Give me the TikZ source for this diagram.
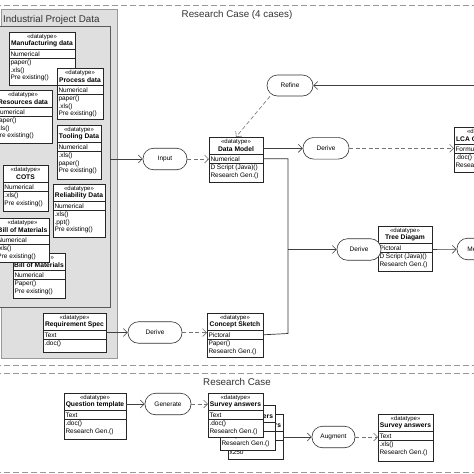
\documentclass[tikz,border=0pt]{standalone}
\usepackage{fontspec}
\setmainfont{Liberation Sans}
\usetikzlibrary{arrows.meta,calc}
\definecolor{regiongray}{HTML}{DFDFDF}
\tikzset{
  dbx/.style={draw=black!85, fill=white, line width=0.6pt, inner sep=0pt, outer sep=0pt},
  dbl/.style={draw=black!85, line width=0.5pt},
  stereo/.style={inner sep=0pt, font=\fontsize{6}{7}\selectfont},
  ttl/.style={inner sep=0pt, font=\fontsize{6.7}{7.5}\selectfont\bfseries},
  attr/.style={anchor=west, inner sep=0pt, font=\fontsize{6.5}{7.5}\selectfont},
  meth/.style={anchor=north west, inner sep=0pt, align=left, font=\fontsize{6.5}{7.5}\selectfont},
  act/.style={draw=black!80, fill=white, rounded corners=10.5pt, minimum height=21.5pt,
    inner sep=0pt, line width=0.6pt, font=\fontsize{6.5}{7.5}\selectfont},
  sol/.style={draw=black!75, line width=0.6pt, -{Straight Barb[length=4pt,width=8pt]}},
  dsh/.style={sol, draw=black!55, dash pattern=on 4pt off 2.5pt},
  plain/.style={draw=black!80, line width=0.7pt},
  secline/.style={draw=black!40, line width=0.9pt, dash pattern=on 6pt off 3pt},
  title/.style={inner sep=0pt, text=black!80, font=\fontsize{9.8}{11}\selectfont},
}
% #1 name, #2 x, #3 y, #4 width, #5 height, #6 title, #7 attribute, #8 methods
\newcommand\dbox[8]{%
  \node[dbx, minimum width=#4pt, minimum height=#5pt, anchor=north west] (#1) at (#2,#3) {};
  \draw[dbl] (#2,#3+17) -- ++(#4,0);
  \draw[dbl] (#2,#3+26.5) -- ++(#4,0);
  \node[stereo] (#1-s) at (#2+#4/2,#3+5.2) {«datatype»};
  \node[ttl] (#1-t) at (#2+#4/2,#3+12.2) {#6};
  \node[attr] (#1-a) at (#2+1.3,#3+21.8) {#7};
  \node[meth] (#1-m) at (#2+1.3,#3+28) {#8};
}
\begin{document}
\begin{tikzpicture}[x=1pt,y=-1pt]
\useasboundingbox (0,0) rectangle (474,474);
\clip (0,0) rectangle (474,474);
\fill[white] (0,0) rectangle (474,474);

% section frames
\draw[secline] (-5,5) -- (480,5);
\draw[secline] (-5,365) -- (480,365);
\draw[secline] (-5,373) -- (480,373);
\draw[secline] (-5,472) -- (480,472);

\node[title] (t1) at (237,15) {Research Case (4 cases)};
\node[title] (t2) at (237,382) {Research Case};

% industrial project data region
\node[draw=black!40, fill=regiongray, line width=0.7pt, inner sep=0pt, outer sep=0pt,
  minimum width=116pt, minimum height=349pt, anchor=north west] (ipdo) at (1,9) {};
\node[title, anchor=west] (t3) at (3,19.5) {Industrial Project Data};
\node[draw=black!65, fill=regiongray, line width=0.7pt, inner sep=0pt, outer sep=0pt,
  minimum width=115pt, minimum height=281pt, anchor=north west] (ipd) at (-5,26) {};

\dbox{md}{9}{32}{66}{53}{Manufacturing data}{Numerical}{paper()\\.xls()\\Pre existing()}
\dbox{pd}{57}{68}{46}{51}{Process data}{Numerical}{paper()\\.xls()\\Pre existing()}
\dbox{rd}{-6}{90}{58}{53}{Resources data}{Numerical}{paper()\\.xls()\\Pre existing()}
\dbox{td}{57}{125}{44}{54}{Tooling Data}{Numerical}{.xls()\\paper()\\Pre existing()}
\dbox{cots}{3}{165}{45}{46}{COTS}{Numerical}{.xls()\\Pre existing()}
\dbox{rel}{53}{184}{52}{53}{Reliability Data}{Numerical}{.xls()\\.ppt()\\Pre existing()}
\dbox{bomb}{13}{253}{52}{45}{Bill of Materials}{Numerical}{Paper()\\Pre existing()}
\dbox{boma}{-4}{218}{53}{44}{Bill of Materials}{Numerical}{.xls()\\Pre existing()}
\dbox{rs}{43}{313}{63}{39}{Requirement Spec}{Text}{.doc()}

% research case (4 cases)
\dbox{dm}{209}{137}{54}{45}{Data Model}{Numerical}{D Script (Java)()\\Research Gen.()}
\dbox{lca}{454}{127}{56}{45}{LCA Calculation}{Formula}{.doc()\\Research Gen.()}
\dbox{tree}{378}{226}{54}{45}{Tree Diagam}{Pictoral}{D Script (Java)()\\Research Gen.()}
\dbox{cs}{207}{313}{56}{44}{Concept Sketch}{Pictoral}{Paper()\\Research Gen.()}

\node[act, minimum width=44pt] (inp) at (165,159) {Input};
\node[act, minimum width=46pt, minimum height=21pt] (ref) at (290,85.5) {Refine};
\node[act, minimum width=46pt] (d1) at (326,148.3) {Derive};
\node[act, minimum width=44pt] (d2) at (359,249.5) {Derive};
\node[act, minimum width=46pt] (mm) at (480,249) {Measure};
\node[act, minimum width=54pt] (d3) at (155,332.5) {Derive};

\coordinate (rr) at (480,85.5);
\coordinate (jb) at (288,333.5);
\coordinate (jm) at (288,249.5);

\draw[sol] (ipd.east |- inp) -- (inp);
\draw[dsh] (inp) -- (inp -| dm.west);
\draw[dsh] ($(ref.south)+(-20,0)$) -- (dm.north);
\draw[sol] (rr) -- (ref);
\draw[sol] (dm.east |- d1) -- (d1);
\draw[dsh] (d1) -- (d1 -| lca.west);
\draw[plain] (dm.east |- dm-a) -| (jb) -- (cs.east |- cs-a);
\draw[sol] (jm) -- (jm -| d2.west);
\draw[sol] (tree.east |- d2) -- (mm);
\draw[sol] (rs.east |- d3) -- (d3);
\draw[dsh] (d3) -- (d3 -| cs.west);

% research case
\dbox{qt}{64}{393}{62}{46}{Question template}{Text}{.doc()\\Research Gen.()}
\dbox{sc}{228}{414}{55}{45}{Survey answers}{Text}{.doc()\\x250}
\dbox{sb}{220}{405}{55}{45}{Survey answers}{Text}{.doc()\\Research Gen.()}
\dbox{sa}{208}{393}{55}{44}{Survey answers}{Text}{.doc()\\Research Gen.()}
\dbox{sf}{378}{414}{55}{47}{Survey answers}{Text}{.xls()\\Research Gen.()}

\node[act, minimum width=46pt] (gen) at (168,404) {Generate};
\node[act, minimum width=43pt] (aug) at (333.5,437) {Augment};

\draw[sol] (qt.east |- gen) -- (gen);
\draw[dsh] (gen) -- (gen -| sa.west);
\draw[sol] (sc.east |- aug) -- (aug);
\draw[dsh] (aug) -- (aug -| sf.west);
\end{tikzpicture}
\end{document}
